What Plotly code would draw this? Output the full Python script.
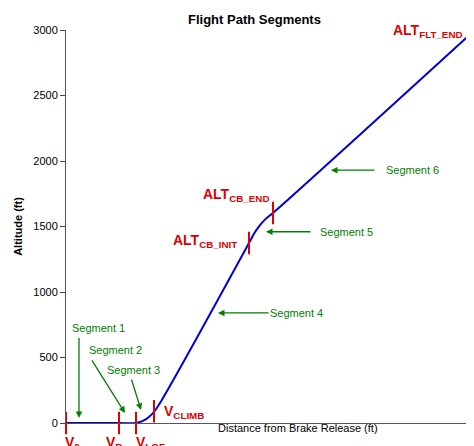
import plotly.graph_objects as go

# flight path (distance in arbitrary units, altitude in ft)
dist = [0, 53, 70, 75, 80, 85, 90, 95, 183, 188, 194, 200, 207, 409]
alt = [0, 0, 0, 10, 30, 60, 105, 165, 1374, 1445, 1510, 1560, 1603, 3000]

# red markers on the path
mark_x = [0, 53, 70, 88, 183, 207, 409]
mark_y = [0, 0, 0, 90, 1374, 1603, 3000]

# red labels under the axis (paper y)
low_text = ["V<sub>0</sub>", "V<sub>R</sub>", "V<sub>LOF</sub>"]
low_x = [6, 48, 84]
# red labels inside the plot (data y)
lbl_text = ["V<sub>CLIMB</sub>", "ALT<sub>CB_INIT</sub>", "ALT<sub>CB_END</sub>", "ALT<sub>FLT_END</sub>"]
lbl_x = [118, 139, 170, 362]
lbl_y = [85, 1390, 1740, 2990]

# green segment arrows: label, arrow tail, arrow head
seg_text = ["Segment 1", "Segment 2", "Segment 3", "Segment 4", "Segment 5", "Segment 6"]
seg_lx = [32, 49, 67, 230, 280, 346]
seg_ly = [725, 557, 405, 840, 1460, 1930]
seg_tx = [13, 25, 65, 204, 246, 310]
seg_ty = [660, 490, 344, 840, 1460, 1930]
seg_hx = [13, 59, 75, 152, 200, 265]
seg_hy = [38, 76, 100, 840, 1460, 1930]

red_font = dict(color="#e00000", size=14, family="Liberation Sans")

fig = go.Figure()
fig.add_trace(go.Scatter(x=dist, y=alt, mode="lines", line=dict(color="#0000dd", width=2),
                         line_shape="spline", cliponaxis=False, hoverinfo="skip"))
fig.add_trace(go.Scatter(x=mark_x, y=mark_y, mode="markers", cliponaxis=False,
                         marker=dict(symbol="line-ns", size=16, line=dict(color="#e00000", width=2))))

for t, x in zip(low_text, low_x):
    fig.add_annotation(x=x, y=-0.052, yref="paper", text="<b>" + t + "</b>", showarrow=False,
                       xanchor="center", yanchor="middle", font=red_font)

for t, x, y in zip(lbl_text, lbl_x, lbl_y):
    fig.add_annotation(x=x, y=y, text="<b>" + t + "</b>", showarrow=False, xanchor="center",
                       yanchor="middle", font=red_font)

for t, lx, ly, tx, ty, hx, hy in zip(seg_text, seg_lx, seg_ly, seg_tx, seg_ty, seg_hx, seg_hy):
    fig.add_annotation(x=lx, y=ly, text=t, showarrow=False, xanchor="center",
                       font=dict(color="green", size=11, family="Liberation Sans"))
    fig.add_annotation(x=hx, y=hy, ax=tx, ay=ty, axref="x", ayref="y", text="", showarrow=True,
                       arrowhead=2, arrowsize=1, arrowwidth=1.3, arrowcolor="green")

fig.add_annotation(x=232, y=-0.033, yref="paper", text="Distance from Brake Release (ft)",
                   showarrow=False, font=dict(size=11, color="black", family="Liberation Sans"))

fig.update_layout(
    width=474, height=446, showlegend=False,
    margin=dict(l=58, r=7, t=22, b=31),
    paper_bgcolor="white", plot_bgcolor="white",
    title=dict(text="<b>Flight Path Segments</b>", x=0.52, y=0.985, xanchor="center",
               font=dict(size=13, color="black", family="Liberation Sans")),
    xaxis=dict(range=[0, 409], showticklabels=False, ticks="", showgrid=False, zeroline=False,
               showline=True, linecolor="#555", automargin=False),
    yaxis=dict(range=[0, 3000], dtick=500, ticks="outside", ticklen=5, showgrid=False,
               zeroline=False, showline=True, linecolor="#555", automargin=False,
               tickfont=dict(size=11, family="Liberation Sans", color="black"),
               title=dict(text="<b>Altitude (ft)</b>", standoff=8,
                          font=dict(size=11, family="Liberation Sans", color="black"))),
)

fig.write_html("out.html")
